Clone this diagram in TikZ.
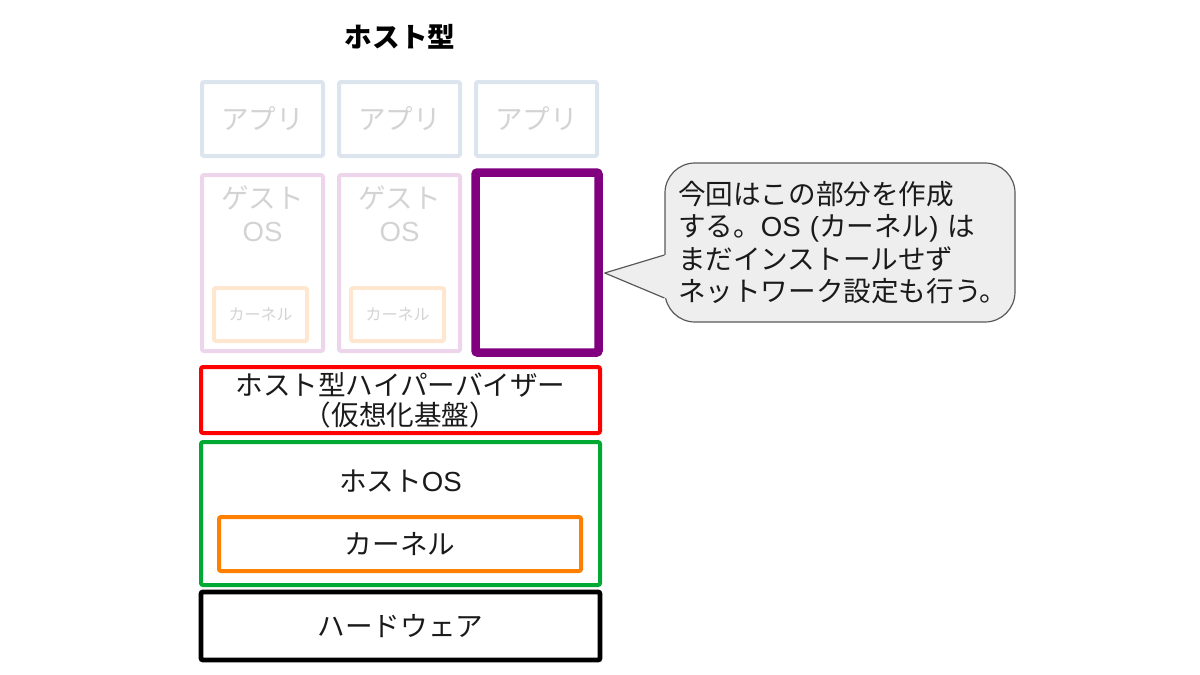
\documentclass[tikz,border=0pt]{standalone}
\usepackage{fontspec}
\setmainfont{Noto Sans CJK JP}
\newfontfamily\latin{Liberation Sans}

\definecolor{appline}{HTML}{DCE4EE}
\definecolor{guestline}{HTML}{EDD5EC}
\definecolor{kernline}{HTML}{FEE6CF}
\definecolor{fadetext}{HTML}{D3D3D3}
\definecolor{vmpurple}{HTML}{800080}
\definecolor{hvred}{HTML}{FF0000}
\definecolor{hostgreen}{HTML}{00A933}
\definecolor{kernorange}{HTML}{FF8000}
\definecolor{notefill}{HTML}{EEEEEE}
\definecolor{noteline}{HTML}{595959}
\definecolor{labeltext}{HTML}{1A1A1A}

\tikzset{
  box/.style={draw,line width=2pt,rounded corners=1pt,inner sep=0pt,align=center,
    text=labeltext,font=\fontsize{13.8}{15}\selectfont},
  appbox/.style={box,draw=appline,text=fadetext,minimum width=60.5pt,minimum height=37pt},
  guestbox/.style={box,draw=guestline,text=fadetext,minimum width=60.5pt,minimum height=88pt},
  kernbox/.style={box,draw=kernline,text=fadetext,minimum width=46.5pt,minimum height=26.5pt,
    font=\fontsize{8}{9}\selectfont},
  layerbox/.style={box,minimum width=199.5pt},
}

\begin{document}
\begin{tikzpicture}[x=0.5pt,y=-0.5pt]
  \useasboundingbox (0,0) rectangle (1200,675);

  \node[font=\bfseries\fontsize{13.8}{15}\selectfont] (title) at (400,37) {ホスト型};

  % apps
  \node[appbox] (app1) at (262.5,119) {アプリ};
  \node[appbox] (app2) at (399.5,119) {アプリ};
  \node[appbox] (app3) at (536.5,119) {アプリ};

  % guests
  \node[guestbox] (guest1) at (262.5,263) {};
  \node[guestbox] (guest2) at (399.5,263) {};
  \node[text=fadetext,align=center,font=\fontsize{13.8}{16.5}\selectfont] (gname1) at (262.5,214) {ゲスト\\{\latin OS}};
  \node[text=fadetext,align=center,font=\fontsize{13.8}{16.5}\selectfont] (gname2) at (399.5,214) {ゲスト\\{\latin OS}};
  \node[kernbox] (gkern1) at (260.5,314.5) {カーネル};
  \node[kernbox] (gkern2) at (397.5,314.5) {カーネル};
  \node[box,draw=vmpurple,line width=4.25pt,minimum width=61.5pt,minimum height=90pt] (newvm) at (537,262.5) {};

  % host stack
  \node[layerbox,draw=hvred,minimum height=33pt,font=\fontsize{13.8}{15}\selectfont] (hyper) at (400.5,400) {ホスト型ハイパーバイザー\\（仮想化基盤）};
  \node[layerbox,draw=hostgreen,minimum height=71.5pt] (hostos) at (400.5,513.5) {};
  \node (hostname) at (400.5,481) [text=labeltext,font=\fontsize{13.8}{15}\selectfont] {ホスト{\latin OS}};
  \node[box,draw=kernorange,minimum width=181pt,minimum height=27pt] (hostkern) at (400,544) {カーネル};
  \node[layerbox,draw=black,line width=2.4pt,minimum height=34pt] (hw) at (400.5,626) {ハードウェア};

  % note
  \node[draw=noteline,fill=notefill,line width=0.6pt,rounded corners=15pt,minimum width=175pt,
    minimum height=79.5pt,text width=162pt,align=left,text=labeltext,
    font=\fontsize{13.8}{16.25}\selectfont] (note) at (840,242.5)
    {今回はこの部分を作成\\する。{\latin OS (}カーネル{\latin )} は\\まだインストールせず\\ネットワーク設定も行う。};
  \coordinate (tip) at ([xshift=1pt,yshift=-5.25pt]newvm.east);
  \coordinate (pa) at ([yshift=-6.25pt]note.west);
  \coordinate (pb) at ([yshift=-27.75pt]note.west);
  \fill[notefill] (pa) -- (tip) -- (pb) -- ([xshift=1.5pt]pb) -- ([xshift=1.5pt]pa) -- cycle;
  \draw[noteline,line width=0.6pt,line join=round] (pa) -- (tip) -- (pb);
\end{tikzpicture}
\end{document}
